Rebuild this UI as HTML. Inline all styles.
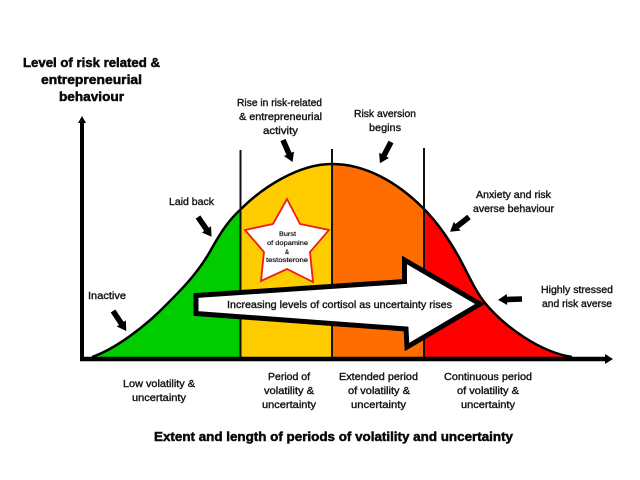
<!DOCTYPE html>
<html><head><meta charset="utf-8"><style>
html,body{margin:0;padding:0;background:#fff;width:640px;height:480px;overflow:hidden}
svg{display:block}
text{font-family:"Liberation Sans",sans-serif;fill:#161616;font-size:10.3px;stroke:#161616;stroke-width:.38px;text-anchor:start}
.t{font-size:13px;font-weight:bold;stroke-width:.5px;fill:#0a0a0a;stroke:#0a0a0a}
.s{font-size:6.8px;stroke-width:.25px}
</style></head><body>
<svg width="640" height="480" viewBox="0 0 640 480" xmlns="http://www.w3.org/2000/svg">
<defs>
<clipPath id="c"><path d="M92,357 C115,349 145,327 168,303 C185,286 200,270 212,248 C222,230 230,219 241,209 C262,188 298,164 332,164 C366,164 398,183 423,208 C438,223 450,240 462,263 C470,278 476,292 485,303 C505,327 540,352 572,357 Z"/></clipPath>
<polygon id="a" points="0,-2.800 15,-2.800 15,-5.500 24,0 15,5.500 15,2.800 0,2.800"/>
</defs>
<g clip-path="url(#c)">
<rect x="80" y="150" width="160" height="210" fill="#00cc00"/>
<rect x="240" y="150" width="92" height="210" fill="#ffcc00"/>
<rect x="332" y="150" width="92" height="210" fill="#ff6d00"/>
<rect x="424" y="150" width="160" height="210" fill="#ff0000"/>
</g>
<path d="M92,357 C115,349 145,327 168,303 C185,286 200,270 212,248 C222,230 230,219 241,209 C262,188 298,164 332,164 C366,164 398,183 423,208 C438,223 450,240 462,263 C470,278 476,292 485,303 C505,327 540,352 572,357" fill="none" stroke="#000" stroke-width="2.500"/>
<path d="M240.500,150V359M332,149V359M424,148V359" stroke="#111" stroke-width="2" fill="none"/>
<path d="M82,361V122" stroke="#000" stroke-width="4" fill="none"/>
<polygon points="82,116 86,123 78,123" fill="#000"/>
<path d="M80,359H606" stroke="#000" stroke-width="4.500" fill="none"/>
<polygon points="613,359 605,354 605,364" fill="#000"/>
<polygon points="287,199 300,224 329,230 310,252 313,282 287,269 261,281 264,252 245,230 273,224" fill="#fff" stroke="#ee1c1c" stroke-width="1.800"/>
<polygon points="196,295.500 404.500,281.500 404.500,260 480,304 407,347 406,329 196,313.500" fill="#fff" stroke="#000" stroke-width="5" stroke-linejoin="miter" stroke-miterlimit="6"/>
<use href="#a" transform="translate(113,311) rotate(56.3)"/>
<use href="#a" transform="translate(198,217) rotate(55.6)"/>
<use href="#a" transform="translate(283,140) rotate(66.5)"/>
<use href="#a" transform="translate(391,142) rotate(117.6)"/>
<use href="#a" transform="translate(469,217) rotate(142)"/>
<use href="#a" transform="translate(522,299) rotate(178)"/>
<text class="t" x="23" y="67" textLength="137" lengthAdjust="spacingAndGlyphs">Level of risk related &amp;</text>
<text class="t" x="41" y="84" textLength="101" lengthAdjust="spacingAndGlyphs">entrepreneurial</text>
<text class="t" x="59" y="101" textLength="65" lengthAdjust="spacingAndGlyphs">behaviour</text>
<text class="t" x="154" y="441" textLength="359" lengthAdjust="spacingAndGlyphs">Extent and length of periods of volatility and uncertainty</text>
<text x="237" y="106" textLength="85" lengthAdjust="spacingAndGlyphs">Rise in risk-related</text>
<text x="239" y="120" textLength="83" lengthAdjust="spacingAndGlyphs">&amp; entrepreneurial</text>
<text x="263" y="134" textLength="35" lengthAdjust="spacingAndGlyphs">activity</text>
<text x="354" y="117" textLength="62" lengthAdjust="spacingAndGlyphs">Risk aversion</text>
<text x="369" y="131" textLength="32" lengthAdjust="spacingAndGlyphs">begins</text>
<text x="476" y="198" textLength="75" lengthAdjust="spacingAndGlyphs">Anxiety and risk</text>
<text x="473" y="212" textLength="81" lengthAdjust="spacingAndGlyphs">averse behaviour</text>
<text x="541" y="293" textLength="72" lengthAdjust="spacingAndGlyphs">Highly stressed</text>
<text x="542" y="307" textLength="70" lengthAdjust="spacingAndGlyphs">and risk averse</text>
<text x="169" y="205" textLength="45" lengthAdjust="spacingAndGlyphs">Laid back</text>
<text x="88" y="299" textLength="38" lengthAdjust="spacingAndGlyphs">Inactive</text>
<text x="123" y="387" textLength="72" lengthAdjust="spacingAndGlyphs">Low volatility &amp;</text>
<text x="132" y="401" textLength="54" lengthAdjust="spacingAndGlyphs">uncertainty</text>
<text x="268" y="380" textLength="42" lengthAdjust="spacingAndGlyphs">Period of</text>
<text x="264" y="394" textLength="50" lengthAdjust="spacingAndGlyphs">volatility &amp;</text>
<text x="262" y="408" textLength="54" lengthAdjust="spacingAndGlyphs">uncertainty</text>
<text x="339" y="380" textLength="79" lengthAdjust="spacingAndGlyphs">Extended period</text>
<text x="348" y="394" textLength="62" lengthAdjust="spacingAndGlyphs">of volatility &amp;</text>
<text x="351" y="408" textLength="55" lengthAdjust="spacingAndGlyphs">uncertainty</text>
<text x="444" y="380" textLength="88" lengthAdjust="spacingAndGlyphs">Continuous period</text>
<text x="457" y="394" textLength="62" lengthAdjust="spacingAndGlyphs">of volatility &amp;</text>
<text x="461" y="408" textLength="54" lengthAdjust="spacingAndGlyphs">uncertainty</text>
<text x="227" y="308" textLength="225" lengthAdjust="spacingAndGlyphs">Increasing levels of cortisol as uncertainty rises</text>
<text class="s" x="279" y="236" textLength="17" lengthAdjust="spacingAndGlyphs">Burst</text>
<text class="s" x="267" y="245" textLength="41" lengthAdjust="spacingAndGlyphs">of dopamine</text>
<text class="s" x="285" y="254" textLength="4" lengthAdjust="spacingAndGlyphs">&amp;</text>
<text class="s" x="266" y="262" textLength="42" lengthAdjust="spacingAndGlyphs">testosterone</text>
</svg>
</body></html>
